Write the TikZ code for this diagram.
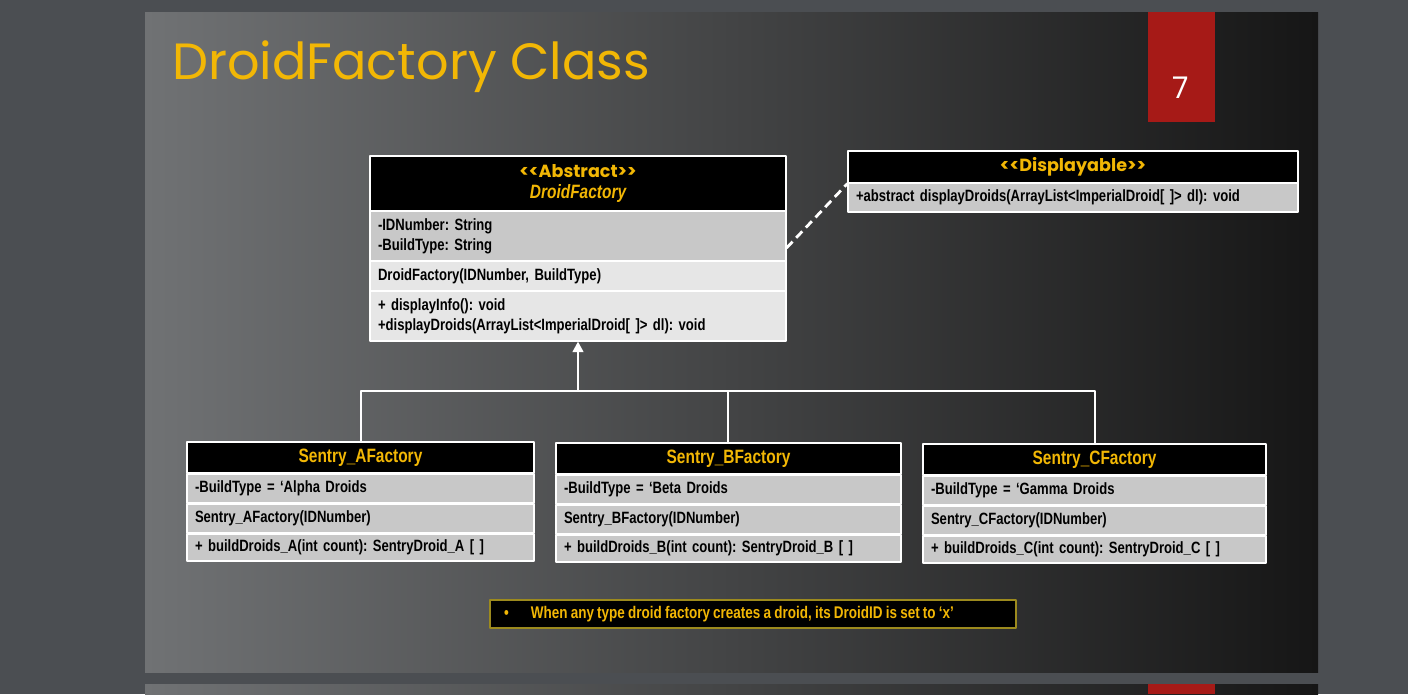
\documentclass[tikz,border=0pt]{standalone}
\usepackage{fontspec}
\setmainfont{Liberation Sans}
\newfontfamily\narrow{Liberation Sans}[FakeStretch=0.80,WordSpace=0.85]
\newfontfamily\titlefont{Poppins}
\usetikzlibrary{arrows.meta}
\frenchspacing
\definecolor{frame}{HTML}{4B4E52}
\definecolor{slideL}{HTML}{707274}
\definecolor{slideR}{HTML}{161616}
\definecolor{gold}{HTML}{F2B705}
\definecolor{rowA}{HTML}{C8C8C8}
\definecolor{rowB}{HTML}{E6E6E6}
\definecolor{numred}{HTML}{A61A17}
\definecolor{noteline}{HTML}{9C8A1E}

% compartment: name, x, y, w, h, fill, text
\newcommand\umlcell[7]{%
  \node[cell,fill=#6,minimum width=#4*0.02cm,minimum height=#5*0.02cm,
        text width=#4*0.02cm-16*0.02cm] (#1) at (#2+#4/2,#3+#5/2) {#7};}
\newcommand\umlhead[6]{%
  \node[head,minimum width=#4*0.02cm,minimum height=#5*0.02cm] (#1) at (#2+#4/2,#3+#5/2) {#6};}

\begin{document}
\begin{tikzpicture}[x=0.02cm,y=-0.02cm,line join=round,
  cell/.style={draw=white,line width=0.6pt,inner sep=0pt,align=left,
    font=\narrow\bfseries\fontsize{9.3}{11.2}\selectfont\frenchspacing,text=black},
  head/.style={draw=white,line width=0.6pt,fill=black,inner sep=0pt,align=center,
    font=\narrow\bfseries\fontsize{11}{13}\selectfont,text=gold},
  link/.style={draw=white,line width=1.4pt}]

% background
\fill[frame] (0,0) rectangle (1408,694);
\shade[left color=slideL,right color=slideR] (145,12) rectangle (1318,672);
\shade[left color=slideL,right color=slideR] (145,684) rectangle (1318,694);
\fill[numred] (1148,12) rectangle (1215,122);
\fill[numred] (1148,684) rectangle (1215,694);
\node[text=white,font=\titlefont\fontsize{17}{20}\selectfont] (num) at (1181,88) {7};
\node[anchor=west,text=gold,font=\titlefont\fontsize{29}{32}\selectfont] (title) at (166,67) {DroidFactory Class};

% abstract class
\umlhead{dfH}{370}{156}{416}{55}{\titlefont\fontsize{10}{14}\selectfont\bfseries <<Abstract>>\\[-1pt]\itshape DroidFactory}
\umlcell{dfA}{370}{211}{416}{50}{rowA}{-IDNumber: String\\-BuildType: String}
\umlcell{dfC}{370}{261}{416}{30}{rowB}{DroidFactory(IDNumber, BuildType)}
\umlcell{dfM}{370}{291}{416}{50}{rowB}{+ displayInfo(): void\\+displayDroids(ArrayList<ImperialDroid[ ]> dl): void}

% interface
\umlhead{ifH}{848}{151}{450}{32}{\titlefont\fontsize{10}{12}\selectfont\bfseries <<Displayable>>}
\umlcell{ifM}{848}{183}{450}{29}{rowA}{+abstract displayDroids(ArrayList<ImperialDroid[ ]> dl): void}
\draw[link,line width=1.6pt,dash pattern=on 5pt off 3pt] (dfA.east) ++(0,12) coordinate (dashS) -- (ifH.south west);

% subclasses
\foreach \n/\x/\y/\w/\t in {A/187/442/347/Alpha, B/556/443/345/Beta, C/923/444/343/Gamma}{
  \umlhead{s\n H}{\x}{\y}{\w}{31}{Sentry\_\n Factory}
  \umlcell{s\n A}{\x}{\y+32}{\w}{29}{rowA}{-BuildType = ‘\t\ Droids}
  \umlcell{s\n C}{\x}{\y+62}{\w}{29}{rowA}{Sentry\_\n Factory(IDNumber)}
  \umlcell{s\n M}{\x}{\y+92}{\w}{27}{rowA}{+ buildDroids\_\n(int count): SentryDroid\_\n\ [ ]}
}

% generalisation
\coordinate (hub) at (578,391);
\draw[link,-{Triangle[width=6pt,length=6pt,fill=white]}] (hub) -- (dfM.south -| hub);
\draw[link] (sAH.north -| 361,0) |- (hub);
\draw[link] (sCH.north -| 1095,0) |- (hub);
\draw[link] (sBH.north -| 728,0) -- (728,391);

% note
\node[draw=noteline,line width=0.8pt,fill=black,minimum width=526*0.02cm,minimum height=28*0.02cm] (note) at (753,614) {};
\node[anchor=west,text=gold,font=\narrow\bfseries\fontsize{9.6}{10}\selectfont] (noteT) at (498,614)
  {\textbullet\hspace{1.3em}When any type droid factory creates a droid, its DroidID is set to ‘x’};
\end{tikzpicture}
\end{document}
